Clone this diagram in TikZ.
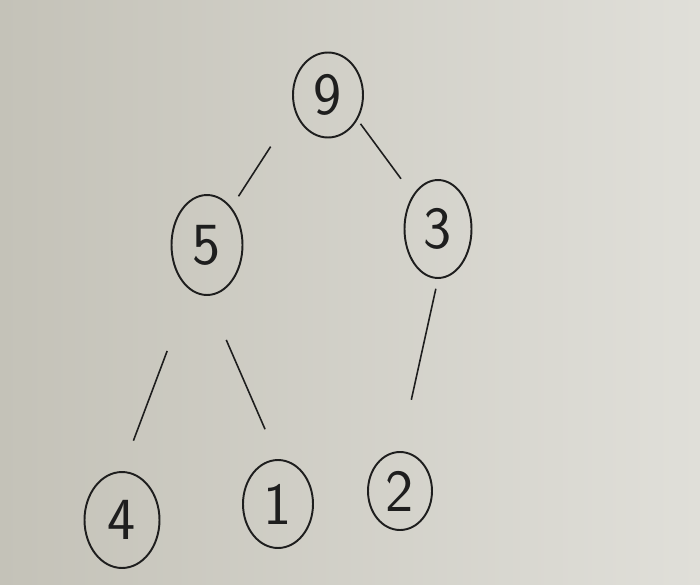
\documentclass[tikz,border=0pt]{standalone}
\usetikzlibrary{shapes.geometric}
\definecolor{paperdark}{RGB}{196,194,184}
\definecolor{paperlight}{RGB}{224,223,217}
\definecolor{pencil}{RGB}{30,30,30}

\begin{document}
\begin{tikzpicture}[x=0.02cm,y=-0.02cm,
  num/.style={ellipse,draw=pencil,line width=1.1pt,inner sep=0pt,
    font=\sffamily\fontsize{34}{34}\selectfont,text=pencil},
  link/.style={draw=pencil,line width=0.9pt}]
\shade[left color=paperdark,right color=paperlight] (0,0) rectangle (700,585);
\node[num,minimum width=1.4cm,minimum height=1.7cm] (n9) at (328,95) {9};
\node[num,minimum width=1.42cm,minimum height=2.0cm] (n5) at (207,245) {5};
\node[num,minimum width=1.34cm,minimum height=1.96cm] (n3) at (438,229) {3};
\node[num,minimum width=1.5cm,minimum height=1.92cm] (n4) at (122,520) {4};
\node[num,minimum width=1.4cm,minimum height=1.76cm] (n1) at (278,504) {1};
\node[num,minimum width=1.28cm,minimum height=1.56cm] (n2) at (400,491) {2};
\draw[link,shorten <=1.23cm,shorten >=1.16cm] ([xshift=-0.48cm]n9.center) -- (n5.center);
\draw[link,shorten <=0.1cm,shorten >=0.4cm] (n9.-40) -- (n3);
\draw[link,shorten <=1.3cm,shorten >=0.65cm] (n5) -- (n4.north);
\draw[link,shorten <=2.07cm,shorten >=0.65cm] ([xshift=-0.44cm]n5.center) -- (n1.north);
\draw[link,shorten <=0.2cm,shorten >=1.05cm] (n3.south) -- (n2.north);
\end{tikzpicture}
\end{document}
